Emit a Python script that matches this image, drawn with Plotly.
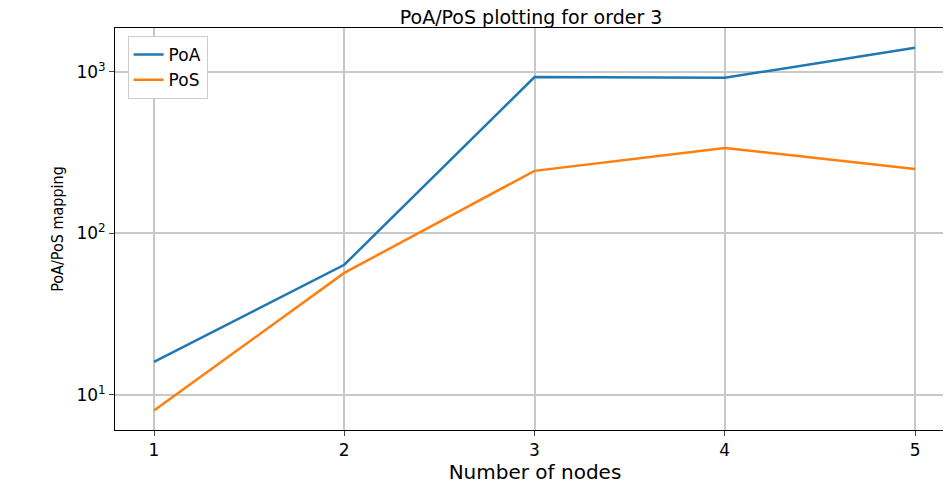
import plotly.graph_objects as go

nodes = [1, 2, 3, 4, 5]
poa = [16, 64, 930, 920, 1410]
pos = [8, 57, 244, 338, 251]
ytick_vals = [10, 100, 1000]
ytick_text = ["10<sup>1</sup>", "10<sup>2</sup>", "10<sup>3</sup>"]

fig = go.Figure()
fig.add_trace(go.Scatter(x=nodes, y=poa, mode="lines", name="PoA", line=dict(color="#1f77b4", width=2.5)))
fig.add_trace(go.Scatter(x=nodes, y=pos, mode="lines", name="PoS", line=dict(color="#ff7f0e", width=2.5)))

fig.update_layout(
    width=951, height=487, paper_bgcolor="white", plot_bgcolor="white",
    margin=dict(l=107, r=4, t=20, b=65),
    font=dict(family="DejaVu Sans", size=17, color="black"),
    title=dict(text="PoA/PoS plotting for order 3", x=0.55, xanchor="center", y=0.995, yanchor="top", font=dict(size=19)),
    legend=dict(x=0.015, y=0.98, xanchor="left", yanchor="top", bordercolor="#cccccc", borderwidth=1,
                bgcolor="white", font=dict(size=17)),
    xaxis=dict(range=[0.795, 5.21], tickvals=nodes, showgrid=True, gridcolor="#c8c8c8", gridwidth=1.5,
               showline=True, linecolor="black", mirror=True, ticks="outside", zeroline=False,
               title=dict(text="Number of nodes", standoff=2)),
    yaxis=dict(type="log", range=[0.783, 3.272], tickvals=ytick_vals, ticktext=ytick_text,
               showgrid=True, gridcolor="#c8c8c8", gridwidth=1.5,
               showline=True, linecolor="black", mirror=True, ticks="outside",
               title=dict(text="PoA/PoS mapping", font=dict(family="Liberation Sans Narrow, DejaVu Sans Condensed", size=16), standoff=8)),
)
fig.write_html("out.html")
